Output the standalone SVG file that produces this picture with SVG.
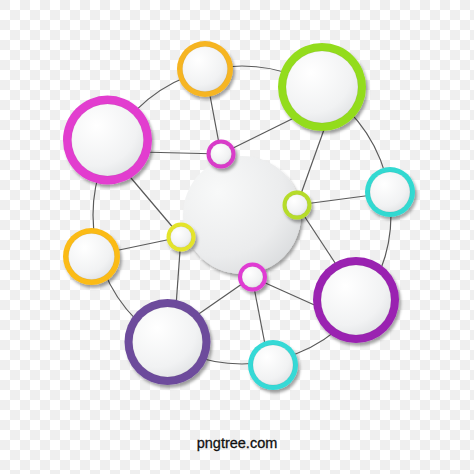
<svg xmlns="http://www.w3.org/2000/svg" width="474" height="474" viewBox="0 0 474 474">
  <defs>
    <pattern id="checker" width="20" height="20" patternUnits="userSpaceOnUse">
      <rect width="20" height="20" fill="#ffffff"/>
      <rect width="10" height="10" fill="#efefef"/>
      <rect x="10" y="10" width="10" height="10" fill="#efefef"/>
    </pattern>
    <radialGradient id="disc" cx="0.35" cy="0.3" r="0.8">
      <stop offset="0" stop-color="#ffffff"/>
      <stop offset="0.7" stop-color="#f1f2f3"/>
      <stop offset="1" stop-color="#e0e2e4"/>
    </radialGradient>
    <radialGradient id="bigdisc" cx="0.3" cy="0.3" r="0.85">
      <stop offset="0" stop-color="#f8f9f9"/>
      <stop offset="0.65" stop-color="#ebeced"/>
      <stop offset="1" stop-color="#d8dadc"/>
    </radialGradient>
    <filter id="shadow" x="-30%" y="-30%" width="160%" height="160%">
      <feDropShadow dx="2" dy="3" stdDeviation="1.8" flood-color="#000" flood-opacity="0.35"/>
    </filter>
  </defs>
  <style>
    .link { stroke: #5a5a5a; stroke-width: 1.2; fill: none; }
    .inner { fill: url(#disc); stroke: #000; stroke-opacity: 0.06; stroke-width: 1; }
    .ring { filter: url(#shadow); }
    .mark { font-family: "Liberation Sans", Arial, sans-serif; font-size: 14.5px; fill: #111; stroke: #111; stroke-width: 0.3; }
  </style>
  <rect width="474" height="474" fill="url(#checker)"/>

  <g id="connectors">
    <circle class="link" cx="242" cy="215" r="149"/>
    <line class="link" x1="221" y1="154" x2="205" y2="69"/>
    <line class="link" x1="221" y1="154" x2="300" y2="115"/>
    <line class="link" x1="221" y1="154" x2="140" y2="152"/>
    <line class="link" x1="181" y1="237" x2="120" y2="165"/>
    <line class="link" x1="181" y1="237" x2="100" y2="254"/>
    <line class="link" x1="181" y1="237" x2="175" y2="320"/>
    <line class="link" x1="252" y1="277" x2="190" y2="320"/>
    <line class="link" x1="252" y1="277" x2="330" y2="312"/>
    <line class="link" x1="252" y1="277" x2="268" y2="360"/>
    <line class="link" x1="297" y1="205" x2="326" y2="124"/>
    <line class="link" x1="297" y1="205" x2="380" y2="194"/>
    <line class="link" x1="297" y1="205" x2="345" y2="278"/>
  </g>

  <g id="center-disc">
    <circle cx="242" cy="215" r="59" fill="url(#bigdisc)" filter="url(#shadow)"/>
  </g>

  <g id="node-orange-top">
    <circle class="ring" cx="205" cy="69" r="28" fill="#f6b521"/>
    <circle class="inner" cx="205" cy="69" r="22.5"/>
  </g>
  <g id="node-green">
    <circle class="ring" cx="322" cy="87" r="44" fill="#93dc1c"/>
    <circle class="inner" cx="322" cy="87" r="36"/>
  </g>
  <g id="node-magenta-left">
    <circle class="ring" cx="107.5" cy="140" r="44.5" fill="#e23ccf"/>
    <circle class="inner" cx="107.5" cy="140" r="36"/>
  </g>
  <g id="node-cyan-right">
    <circle class="ring" cx="390" cy="192" r="25" fill="#32d9d1"/>
    <circle class="inner" cx="390" cy="192" r="20"/>
  </g>
  <g id="node-orange-left">
    <circle class="ring" cx="91.5" cy="256.5" r="28.5" fill="#fbbb19"/>
    <circle class="inner" cx="91.5" cy="256.5" r="23"/>
  </g>
  <g id="node-purple-left">
    <circle class="ring" cx="167.5" cy="342" r="43" fill="#6d4c9c"/>
    <circle class="inner" cx="167.5" cy="342" r="35"/>
  </g>
  <g id="node-purple-right">
    <circle class="ring" cx="356" cy="300" r="43" fill="#9a22b1"/>
    <circle class="inner" cx="356" cy="300" r="35"/>
  </g>
  <g id="node-cyan-bottom">
    <circle class="ring" cx="273" cy="365" r="25" fill="#34d9d6"/>
    <circle class="inner" cx="273" cy="365" r="20"/>
  </g>
  <g id="node-small-magenta-top">
    <circle class="ring" cx="221" cy="154" r="14.5" fill="#d93ac9"/>
    <circle class="inner" cx="221" cy="154" r="10.5"/>
  </g>
  <g id="node-small-green">
    <circle class="ring" cx="297" cy="205" r="14.5" fill="#b6dc2a"/>
    <circle class="inner" cx="297" cy="205" r="10.5"/>
  </g>
  <g id="node-small-yellow">
    <circle class="ring" cx="181" cy="237" r="14.5" fill="#e4e42a"/>
    <circle class="inner" cx="181" cy="237" r="10.5"/>
  </g>
  <g id="node-small-magenta-bottom">
    <circle class="ring" cx="252.5" cy="277" r="14.5" fill="#e03ad3"/>
    <circle class="inner" cx="252.5" cy="277" r="10.5"/>
  </g>

  <text class="mark" x="237" y="448" text-anchor="middle">pngtree.com</text>
</svg>
